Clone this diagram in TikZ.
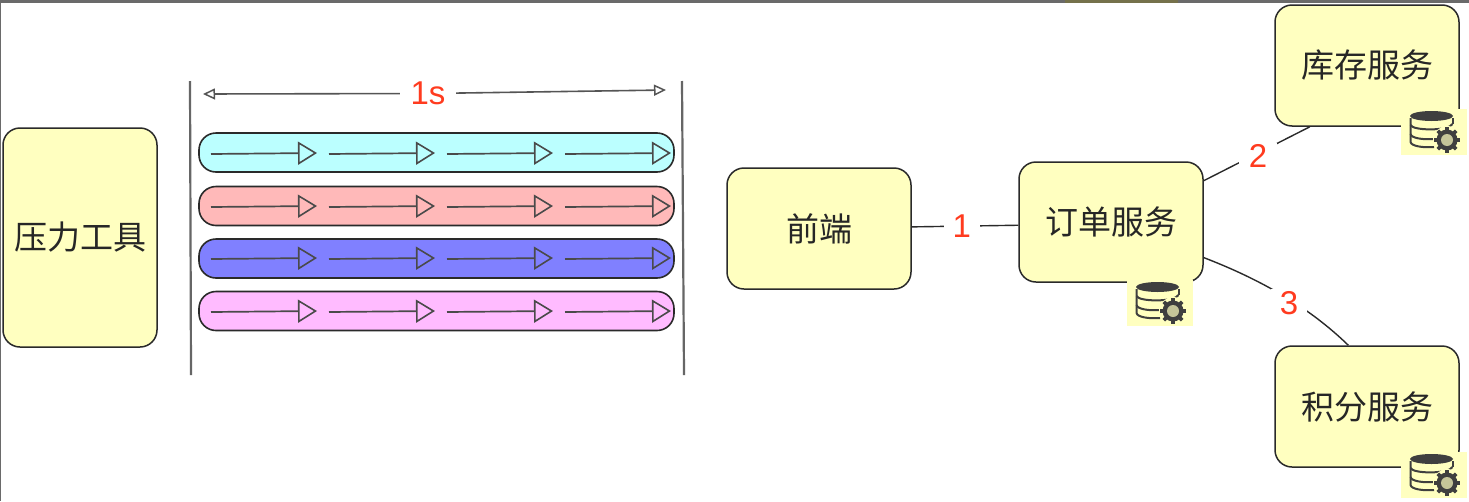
\documentclass[tikz,border=0pt]{standalone}
\usepackage{fontspec}
\setmainfont{Liberation Sans}
\newfontfamily\cjk{Noto Sans CJK SC}
\usetikzlibrary{arrows.meta,calc}
\definecolor{svcfill}{HTML}{FFFFC0}
\definecolor{inkline}{HTML}{2A2A2A}
\definecolor{labred}{HTML}{FF3B1F}
\definecolor{framegray}{HTML}{6A6A6A}
\definecolor{iconink}{HTML}{3F3F3F}
\tikzset{
  svc/.style={draw=inkline,fill=svcfill,line width=1.5pt,rounded corners=17pt,inner sep=0pt,
    font=\cjk\fontsize{33}{35}\selectfont,text=black!85},
  lane/.style={draw=inkline,line width=1.6pt,rounded corners=17pt,inner sep=0pt,minimum width=475pt},
  tick/.style={draw=inkline!85,line width=1.7pt,-{Triangle[open,length=19pt,width=23pt,line width=1.6pt]}},
  span/.style={draw=inkline!80,line width=1.6pt,-{Triangle[open,length=12pt,width=11pt,line width=1.5pt]}},
  wall/.style={draw=black!60,line width=2.2pt},
  link/.style={draw=inkline,line width=1.4pt},
  lab/.style={fill=white,text=labred,inner sep=0pt,font=\fontsize{33}{34}\selectfont},
  pics/dbicon/.style={code={
    \fill[svcfill] (0,0) rectangle (66,46);
    \begin{scope}[draw=iconink,line width=2pt]
      \fill[iconink] (30.5,7) ellipse [x radius=21.5pt,y radius=5pt];
      \draw (9.5,9) -- (9.5,33) .. controls (10,37) and (22,39) .. (33,38);
      \draw (51.5,9) -- (51.5,15);
      \draw (9.5,16) .. controls (12,22) and (48,22) .. (51.5,15);
      \draw (9.5,25) .. controls (10,29) and (22,31) .. (33,30);
    \end{scope}
    \fill[svcfill] (46,31) circle [radius=14pt];
    \foreach \a in {0,45,...,315}{
      \fill[iconink,rotate around={\a:(46,31)}] (44.2,18) rectangle (47.8,23);
    }
    \fill[iconink] (46,31) circle [radius=10.5pt];
    \fill[svcfill!70!iconink] (46,31) circle [radius=6pt];
  }}
}
\begin{document}
\begin{tikzpicture}[x=1pt,y=-1pt]
\useasboundingbox (0,0) rectangle (1469,501);
\fill[white] (0,0) rectangle (1469,501);
\fill[framegray] (0,0) rectangle (1469,3);
\fill[framegray] (0,0) rectangle (1,501);
\fill[black!55!olive!80] (1065,0) rectangle (1178,3);

% walls
\coordinate (wl1) at (190,81); \coordinate (wl2) at (191,375);
\coordinate (wr1) at (682,81); \coordinate (wr2) at (684,375);
\draw[wall] (wl1) -- (wl2);
\draw[wall] (wr1) -- (wr2);

% span label
\node[lab,minimum width=56pt,minimum height=24pt] (onesec) at (428,93.5) {1s};
\coordinate (spanL) at (203,94); \coordinate (spanR) at (666,90);
\draw[span] (onesec) -- (spanL);
\draw[span] (onesec) -- (spanR);

% lanes
\definecolor{laneA}{HTML}{BBFFFF}
\definecolor{laneB}{HTML}{FFB9B9}
\definecolor{laneC}{HTML}{8080FF}
\definecolor{laneD}{HTML}{FFBBFF}
\node[lane,fill=laneA,minimum height=39pt] (rowA) at (436.5,152.5) {};
\node[lane,fill=laneB,minimum height=39pt] (rowB) at (436.5,206) {};
\node[lane,fill=laneC,minimum height=39pt] (rowC) at (436.5,258.5) {};
\node[lane,fill=laneD,minimum height=39pt] (rowD) at (436.5,311) {};
\foreach \r/\yy in {rowA/153,rowB/206,rowC/258,rowD/311}{
  \foreach \xs in {211,329,447,565}{
    \coordinate (s) at (\xs,\yy+1);
    \coordinate (e) at (\xs+106,\yy);
    \draw[tick] (s) -- (e);
  }
}

% services
\node[svc,minimum width=154pt,minimum height=219pt] (tool) at (80,237.5) {压力工具};
\node[svc,minimum width=184pt,minimum height=121pt] (front) at (819,228.5) {前端};
\node[svc,minimum width=184pt,minimum height=120pt] (order) at (1111,222) {订单服务};
\node[svc,minimum width=184pt,minimum height=121pt] (stock) at (1367,65.5) {库存服务};
\node[svc,minimum width=184pt,minimum height=121pt] (points) at (1367,406.5) {积分服务};

% connectors
\draw[link] (front.1) -- node[lab,minimum width=36pt,minimum height=26pt,pos=.47] (n1) {1} (order.182);
\draw[link] (order.24) -- (stock.227);
\node[lab,minimum width=38pt,minimum height=26pt] (n2) at (1258,156) {2};
\draw[link] (order.-21) .. controls (1262,280) and (1310,308) .. (points.107);
\node[lab,minimum width=36pt,minimum height=28pt] (n3) at (1289,303) {3};

% icons
\pic at (1127,280) {dbicon};
\pic at (1401,109) {dbicon};
\pic at (1401,452) {dbicon};
\end{tikzpicture}
\end{document}
